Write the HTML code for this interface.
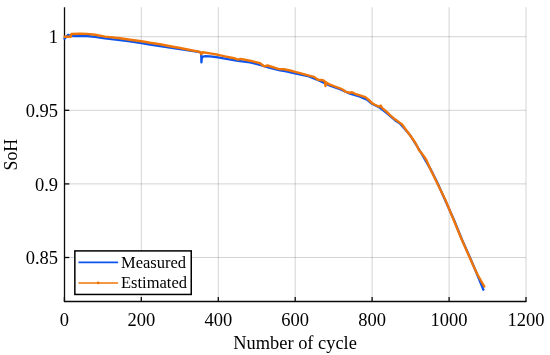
<!DOCTYPE html>
<html><head><meta charset="utf-8"><style>html,body{margin:0;padding:0;background:#fff;width:550px;height:355px;overflow:hidden}svg{display:block}</style></head><body>
<svg width="550" height="355" viewBox="0 0 550 355">
<rect width="550" height="355" fill="#fff"/>
<line x1="141.3" y1="7.2" x2="141.3" y2="301.5" stroke="rgba(38,38,38,0.2)" stroke-width="1"/>
<line x1="218.3" y1="7.2" x2="218.3" y2="301.5" stroke="rgba(38,38,38,0.2)" stroke-width="1"/>
<line x1="295.2" y1="7.2" x2="295.2" y2="301.5" stroke="rgba(38,38,38,0.2)" stroke-width="1"/>
<line x1="372.1" y1="7.2" x2="372.1" y2="301.5" stroke="rgba(38,38,38,0.2)" stroke-width="1"/>
<line x1="449.1" y1="7.2" x2="449.1" y2="301.5" stroke="rgba(38,38,38,0.2)" stroke-width="1"/>
<line x1="526.0" y1="7.2" x2="526.0" y2="301.5" stroke="rgba(38,38,38,0.2)" stroke-width="1"/>
<line x1="64.5" y1="36.7" x2="526.0" y2="36.7" stroke="rgba(38,38,38,0.2)" stroke-width="1"/>
<line x1="64.5" y1="110.3" x2="526.0" y2="110.3" stroke="rgba(38,38,38,0.2)" stroke-width="1"/>
<line x1="64.5" y1="183.9" x2="526.0" y2="183.9" stroke="rgba(38,38,38,0.2)" stroke-width="1"/>
<line x1="64.5" y1="257.5" x2="526.0" y2="257.5" stroke="rgba(38,38,38,0.2)" stroke-width="1"/>
<line x1="64.5" y1="7.2" x2="64.5" y2="302.0" stroke="#0a0a0a" stroke-width="1.3"/>
<line x1="64.0" y1="301.5" x2="526.5" y2="301.5" stroke="#0a0a0a" stroke-width="1.3"/>
<line x1="64.4" y1="301.5" x2="64.4" y2="296.9" stroke="#0a0a0a" stroke-width="1.3"/>
<line x1="141.3" y1="301.5" x2="141.3" y2="296.9" stroke="#0a0a0a" stroke-width="1.3"/>
<line x1="218.3" y1="301.5" x2="218.3" y2="296.9" stroke="#0a0a0a" stroke-width="1.3"/>
<line x1="295.2" y1="301.5" x2="295.2" y2="296.9" stroke="#0a0a0a" stroke-width="1.3"/>
<line x1="372.1" y1="301.5" x2="372.1" y2="296.9" stroke="#0a0a0a" stroke-width="1.3"/>
<line x1="449.1" y1="301.5" x2="449.1" y2="296.9" stroke="#0a0a0a" stroke-width="1.3"/>
<line x1="526.0" y1="301.5" x2="526.0" y2="296.9" stroke="#0a0a0a" stroke-width="1.3"/>
<line x1="64.5" y1="36.7" x2="69.3" y2="36.7" stroke="#0a0a0a" stroke-width="1.3"/>
<line x1="64.5" y1="110.3" x2="69.3" y2="110.3" stroke="#0a0a0a" stroke-width="1.3"/>
<line x1="64.5" y1="183.9" x2="69.3" y2="183.9" stroke="#0a0a0a" stroke-width="1.3"/>
<line x1="64.5" y1="257.5" x2="69.3" y2="257.5" stroke="#0a0a0a" stroke-width="1.3"/>
<path d="M64.5,38.6 L66.5,36.6 L68.2,34.9 L70.5,35.9 L75.0,36.0 L87.0,36.0 L95.0,36.8 L105.0,38.4 L120.0,40.1 L130.0,41.4 L141.5,43.2 L150.0,44.5 L160.0,46.0 L170.0,47.6 L180.0,49.1 L190.0,50.6 L200.0,52.1 L201.2,53.4 L201.4,62.4 L201.9,57.6 L203.2,56.6 L205.5,56.2 L210.0,56.3 L218.0,57.3 L225.0,58.6 L238.0,60.8 L250.0,62.3 L260.0,64.9 L270.0,68.0 L280.0,70.4 L285.0,71.2 L295.0,73.4 L309.0,76.4 L320.0,80.9 L330.0,85.6 L340.0,89.2 L350.0,93.6 L360.0,96.6 L367.0,99.6 L372.0,103.8 L380.0,107.8 L388.0,114.2 L395.0,120.2 L400.0,123.6 L410.0,135.0 L420.0,151.0 L430.8,169.6 L437.5,183.0 L453.7,219.2 L461.9,239.4 L469.8,257.1 L473.2,265.0 L477.7,275.8 L483.4,289.7" fill="none" stroke="#0d54ec" stroke-width="2.3" stroke-linejoin="round" stroke-linecap="round"/>
<path d="M64.5,36.8 L70.6,36.8 L71.4,34.0 L80.0,33.8 L87.0,33.9 L95.0,34.8 L105.0,36.6 L120.0,38.2 L130.0,39.7 L141.5,41.2 L150.0,42.7 L160.0,44.2 L170.0,46.2 L180.0,48.0 L190.0,50.0 L200.0,51.9 L201.3,54.1 L202.5,52.3 L210.0,53.4 L218.0,54.8 L225.0,56.4 L234.0,58.2 L238.2,59.6 L240.5,58.9 L250.0,60.7 L260.0,63.2 L264.5,66.4 L267.5,65.5 L279.0,69.1 L284.0,69.3 L290.0,70.5 L295.0,71.9 L300.0,73.2 L310.0,75.8 L314.0,76.9 L318.0,79.8 L321.0,80.0 L323.0,80.2 L325.0,81.7 L325.4,86.0 L325.9,82.2 L327.0,83.2 L330.0,84.6 L335.0,86.5 L340.0,88.3 L343.0,89.8 L346.0,91.9 L350.0,92.7 L352.0,92.3 L355.0,93.8 L360.0,95.3 L363.0,96.3 L365.0,96.9 L367.0,98.4 L370.0,101.0 L372.0,103.1 L375.0,104.7 L378.0,106.2 L380.0,106.6 L380.8,105.6 L382.0,107.8 L385.0,110.4 L388.0,113.0 L390.0,115.1 L395.0,119.3 L400.0,122.9 L402.0,124.3 L405.0,128.5 L410.0,135.3 L415.0,142.3 L416.5,145.0 L418.9,150.0 L421.0,152.5 L422.9,155.0 L424.4,157.0 L426.3,160.0 L430.8,170.0 L435.7,180.0 L437.5,183.7 L445.4,200.0 L453.7,220.0 L461.9,240.0 L469.8,257.7 L473.0,265.0 L477.7,275.0 L484.3,286.5" fill="none" stroke="#ef7508" stroke-width="2.4" stroke-linejoin="round" stroke-linecap="round"/>
<text x="64.4" y="325.5" font-size="18.5" font-family="Liberation Serif, serif" text-anchor="middle" fill="#000">0</text>
<text x="141.3" y="325.5" font-size="18.5" font-family="Liberation Serif, serif" text-anchor="middle" fill="#000">200</text>
<text x="218.3" y="325.5" font-size="18.5" font-family="Liberation Serif, serif" text-anchor="middle" fill="#000">400</text>
<text x="295.2" y="325.5" font-size="18.5" font-family="Liberation Serif, serif" text-anchor="middle" fill="#000">600</text>
<text x="372.1" y="325.5" font-size="18.5" font-family="Liberation Serif, serif" text-anchor="middle" fill="#000">800</text>
<text x="449.1" y="325.5" font-size="18.5" font-family="Liberation Serif, serif" text-anchor="middle" fill="#000">1000</text>
<text x="526.0" y="325.5" font-size="18.5" font-family="Liberation Serif, serif" text-anchor="middle" fill="#000">1200</text>
<text x="58" y="43.4" font-size="18.5" font-family="Liberation Serif, serif" text-anchor="end" fill="#000">1</text>
<text x="58" y="117.0" font-size="18.5" font-family="Liberation Serif, serif" text-anchor="end" fill="#000">0.95</text>
<text x="58" y="190.6" font-size="18.5" font-family="Liberation Serif, serif" text-anchor="end" fill="#000">0.9</text>
<text x="58" y="264.2" font-size="18.5" font-family="Liberation Serif, serif" text-anchor="end" fill="#000">0.85</text>
<text x="295.1" y="348.7" font-size="18.4" font-family="Liberation Serif, serif" text-anchor="middle" fill="#000">Number of cycle</text>
<text transform="translate(17.3,154.6) rotate(-90)" x="0" y="0" font-size="17.8" font-family="Liberation Serif, serif" text-anchor="middle" fill="#000">SoH</text>
<rect x="74.85" y="250.9" width="116.4" height="43.55" fill="#fff" stroke="#000" stroke-width="1.5"/>
<line x1="78.5" y1="262.4" x2="118.1" y2="262.4" stroke="#0d54ec" stroke-width="1.6"/>
<line x1="78.5" y1="282.9" x2="118.1" y2="282.9" stroke="#ef7508" stroke-width="1.5"/>
<circle cx="98.2" cy="282.9" r="1.4" fill="#ef7508"/>
<text x="121" y="267.9" font-size="16.5" font-family="Liberation Serif, serif" fill="#000">Measured</text>
<text x="121" y="287.6" font-size="16.5" font-family="Liberation Serif, serif" fill="#000">Estimated</text>
</svg>
</body></html>
